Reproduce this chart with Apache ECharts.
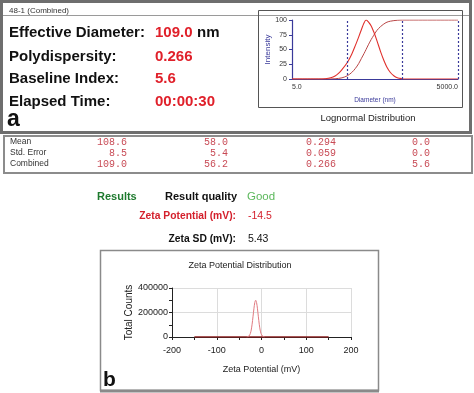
<!DOCTYPE html>
<html><head><meta charset="utf-8">
<script src="https://cdn.jsdelivr.net/npm/echarts@6/dist/echarts.min.js"></script>
<style>html,body{margin:0;padding:0;background:#fff}#c{width:474px;height:393px}</style>
</head><body><div id="c"></div>
<script>
// ---- Panel a: summary values ----
const sampleName = '48-1 (Combined)';
const summaryLabels = ['Effective Diameter:', 'Polydispersity:', 'Baseline Index:', 'Elapsed Time:'];
const summaryValues = ['109.0', '0.266', '5.6', '00:00:30'];
const diameterUnit = 'nm';

// ---- Lognormal distribution (diameter nm, intensity %) ----
const lnDiameter   = [5, 15, 20, 25, 30, 35, 40, 50, 60, 70, 80, 90, 100, 109, 120, 135, 150, 170, 200, 230, 260, 300, 350, 400, 450, 500, 5000];
const lnIntensity  = [0, 0, 0.5, 2, 5, 10, 16, 28, 42, 57, 71, 84, 95, 100, 97, 90, 80, 66, 46, 31, 20, 11, 5, 2, 1, 0, 0];
const cumDiameter  = [5, 20, 30, 40, 50, 60, 70, 80, 90, 100, 109, 120, 135, 150, 170, 200, 250, 300, 400, 500, 5000];
const cumIntensity = [0, 0, 0.4, 2, 5.5, 11, 18, 26, 35, 43, 50, 58, 67, 74, 82, 89, 95.6, 98, 99.6, 100, 100];
const dashedDiameters = [50, 500, 5000];

// ---- Statistics table ----
const tableRowLabels = ['Mean', 'Std. Error', 'Combined'];
const meanRow     = ['108.6', '58.0', '0.294', '0.0'];
const stdErrorRow = ['8.5', '5.4', '0.059', '0.0'];
const combinedRow = ['109.0', '56.2', '0.266', '5.6'];

// ---- Panel b: zeta results ----
const zetaPotential = '-14.5';
const zetaSD = '5.43';
const resultQuality = 'Good';
const zetaBaseX = [-150, 150];
const zetaBaseY = [0, 0];
const zetaX = [-33, -28, -25, -23, -21, -19, -17, -15, -13, -11, -9, -7, -5, -3, -1, 2, 7];
const zetaY = [0, 8000, 28000, 57000, 104000, 165000, 230000, 281000, 300000, 281000, 230000, 165000, 104000, 57000, 28000, 8000, 0];

const zip = (a, b) => a.map((v, i) => [v, b[i]]);
const F = 'Liberation Sans, Arial, sans-serif';
const chart = echarts.init(document.getElementById('c'), null, {renderer: 'canvas'});

const g = [];
// frames
g.push({type:'rect', shape:{x:1.5,y:1.5,width:469,height:131}, style:{fill:'none', stroke:'#6e6e6e', lineWidth:3}, z:10});
g.push({type:'line', shape:{x1:3,y1:15.5,x2:469,y2:15.5}, style:{stroke:'#9a9a9a', lineWidth:1}, z:10});
g.push({type:'rect', shape:{x:4,y:136,width:468,height:37}, style:{fill:'none', stroke:'#8c8c8c', lineWidth:2}, z:10});
g.push({type:'rect', shape:{x:258.5,y:10.5,width:204,height:97}, style:{fill:'none', stroke:'#555', lineWidth:1}, z:10});
g.push({type:'rect', shape:{x:100.5,y:250.5,width:278,height:140}, style:{fill:'none', stroke:'#8a8a8a', lineWidth:1.5}, z:10});
g.push({type:'line', shape:{x1:100,y1:391,x2:379,y2:391}, style:{stroke:'#8a8a8a', lineWidth:3}, z:10});

g.push({type:'text', x:9, y:11, style:{text:sampleName, font:'8px '+F, fill:'#333', verticalAlign:'middle'}});
const rowsY = [33, 57, 79, 102];
summaryLabels.forEach((t, i) => {
  g.push({type:'text', x:9, y:rowsY[i], style:{text:t, font:'bold 15px '+F, fill:'#111', verticalAlign:'middle'}});
  g.push({type:'text', x:155, y:rowsY[i], style:{text:summaryValues[i], font:'bold 15px '+F, fill:'#e0202a', verticalAlign:'middle'}});
});
g.push({type:'text', x:197, y:rowsY[0], style:{text:diameterUnit, font:'bold 15px '+F, fill:'#111', verticalAlign:'middle'}});
g.push({type:'text', x:7, y:120, style:{text:'a', font:'bold 23px '+F, fill:'#111', verticalAlign:'middle'}});
g.push({type:'text', x:368, y:118, style:{text:'Lognormal Distribution', font:'9.5px '+F, fill:'#222', align:'center', verticalAlign:'middle'}});

// table
const tableY = [142, 153, 164];
const colRight = [127, 228, 336, 430];
[meanRow, stdErrorRow, combinedRow].forEach((row, r) => {
  g.push({type:'text', x:10, y:tableY[r], style:{text:tableRowLabels[r], font:'8.5px '+F, fill:'#333', verticalAlign:'middle'}});
  row.forEach((v, c) => {
    g.push({type:'text', x:colRight[c], y:tableY[r], style:{text:v, font:'10px Liberation Mono, monospace', fill:'#c84a55', align:'right', verticalAlign:'middle'}});
  });
});

// results
g.push({type:'text', x:97, y:197, style:{text:'Results', font:'bold 11px '+F, fill:'#1e7a2e', verticalAlign:'middle'}});
g.push({type:'text', x:165, y:197, style:{text:'Result quality', font:'bold 11px '+F, fill:'#111', verticalAlign:'middle'}});
g.push({type:'text', x:247, y:197, style:{text:resultQuality, font:'11.5px '+F, fill:'#5cb85c', verticalAlign:'middle'}});
g.push({type:'text', x:236, y:216, style:{text:'Zeta Potential (mV):', font:'bold 10.3px '+F, fill:'#d4202c', align:'right', verticalAlign:'middle'}});
g.push({type:'text', x:248, y:216, style:{text:zetaPotential, font:'10.5px '+F, fill:'#d4202c', verticalAlign:'middle'}});
g.push({type:'text', x:236, y:239, style:{text:'Zeta SD (mV):', font:'bold 10.3px '+F, fill:'#111', align:'right', verticalAlign:'middle'}});
g.push({type:'text', x:248, y:239, style:{text:zetaSD, font:'10.5px '+F, fill:'#111', verticalAlign:'middle'}});
g.push({type:'text', x:240, y:266, style:{text:'Zeta Potential Distribution', font:'9px '+F, fill:'#222', align:'center', verticalAlign:'middle'}});
g.push({type:'text', x:103, y:380, style:{text:'b', font:'bold 21px '+F, fill:'#111', verticalAlign:'middle'}});

const blue = '#3a3a9a';
const option = {
  animation: false,
  backgroundColor: '#fff',
  grid: [
    {left:292, right:16, top:20, bottom:314},
    {left:172, right:123, top:288, bottom:56}
  ],
  xAxis: [
    {gridIndex:0, type:'log', logBase:10, min:5, max:5000,
     axisLine:{onZero:false, lineStyle:{color:blue, width:1.2}}, axisTick:{show:false}, splitLine:{show:false}, minorTick:{show:false},
     axisLabel:{fontSize:7, color:'#333', fontFamily:F, margin:5, alignMinLabel:'left', alignMaxLabel:'right', showMinLabel:true, showMaxLabel:true,
       formatter: v => (Math.abs(v-5)<1e-6 ? '5.0' : (Math.abs(v-5000)<1e-3 ? '5000.0' : ''))},
     name:'Diameter (nm)', nameLocation:'middle', nameGap:18, nameTextStyle:{fontSize:6.5, color:blue, fontFamily:F}},
    {gridIndex:1, type:'value', min:-200, max:200, interval:100,
     axisLine:{onZero:false, lineStyle:{color:'#222', width:1}}, axisTick:{length:3, lineStyle:{color:'#222'}},
     minorTick:{show:true, splitNumber:2, length:3, lineStyle:{color:'#222'}},
     splitLine:{show:true, lineStyle:{color:'#dcdcdc', width:1}},
     axisLabel:{fontSize:9, color:'#222', fontFamily:F, margin:9},
     name:'Zeta Potential (mV)', nameLocation:'middle', nameGap:28, nameTextStyle:{fontSize:9, color:'#222', fontFamily:F}}
  ],
  yAxis: [
    {gridIndex:0, type:'value', min:0, max:100, interval:25,
     axisLine:{show:true, onZero:false, lineStyle:{color:blue, width:1.2}}, axisTick:{show:true, length:3, lineStyle:{color:blue}},
     splitLine:{show:false}, axisLabel:{fontSize:7, color:'#333', fontFamily:F, margin:5},
     name:'Intensity', nameLocation:'middle', nameGap:18, nameRotate:90, nameTextStyle:{fontSize:8, color:blue, fontFamily:F}},
    {gridIndex:1, type:'value', min:0, max:400000, interval:200000,
     axisLine:{show:true, onZero:false, lineStyle:{color:'#222', width:1}}, axisTick:{show:true, length:3, lineStyle:{color:'#222'}},
     minorTick:{show:true, splitNumber:2, length:3, lineStyle:{color:'#222'}},
     splitLine:{show:true, lineStyle:{color:'#dcdcdc', width:1}},
     axisLabel:{fontSize:9, color:'#222', fontFamily:F, margin:4, formatter: v => String(v)},
     name:'Total Counts', nameLocation:'middle', nameGap:37, nameRotate:90, nameTextStyle:{fontSize:10, color:'#222', fontFamily:F}}
  ],
  series: [
    {type:'line', xAxisIndex:0, yAxisIndex:0, data:zip(cumDiameter, cumIntensity), smooth:0.3, symbol:'none',
     lineStyle:{color:'#b84545', width:1}, z:3},
    {type:'line', xAxisIndex:0, yAxisIndex:0, data:zip(lnDiameter, lnIntensity), smooth:0.3, symbol:'none',
     lineStyle:{color:'#e0302c', width:1.1}, z:4,
     markLine:{silent:true, symbol:'none', label:{show:false},
       lineStyle:{color:blue, type:[2,2], width:1.2},
       data: dashedDiameters.map(d => ({xAxis:d}))}},
    {type:'line', xAxisIndex:1, yAxisIndex:1, data:zip(zetaBaseX, zetaBaseY), symbol:'none',
     lineStyle:{color:'#8b1e1e', width:1.6}, z:3},
    {type:'line', xAxisIndex:1, yAxisIndex:1, data:zip(zetaX, zetaY), smooth:0.3, symbol:'none',
     lineStyle:{color:'#e07a80', width:1}, z:4}
  ],
  graphic: g
};
chart.setOption(option);
</script></body></html>
